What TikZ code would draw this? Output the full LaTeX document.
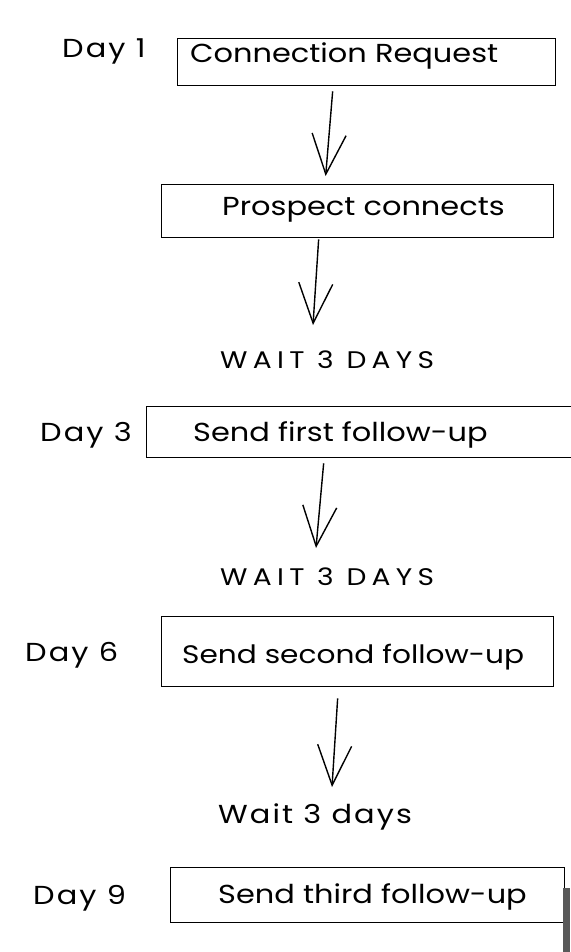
\documentclass[tikz,border=0pt]{standalone}
\usepackage{fontspec}
\setmainfont[FakeStretch=1.17]{Poppins}
\usetikzlibrary{arrows.meta}

\begin{document}
\begin{tikzpicture}[x=1pt, y=-1pt,
        stage/.style={draw, rectangle, line width=1.3pt, anchor=north west, inner sep=0pt},
        says/.style={anchor=base west, inner sep=0pt, font=\fontsize{26}{30}\selectfont},
        day/.style={says, font=\fontsize{26}{30}\selectfont\addfontfeatures{LetterSpace=8}},
        pause/.style={says, font=\fontsize{24}{28}\selectfont\addfontfeatures{LetterSpace=22}},
        flow/.style={-{Straight Barb[length=40pt, width=34pt, line width=1.4pt]}, line width=1.4pt}]
    \useasboundingbox (0,0) rectangle (570,952);
    % boxes
    \node[stage, minimum width=378pt, minimum height=47pt] (req) at (177,38) {};
    \node[stage, minimum width=392pt, minimum height=53pt] (conn) at (161,184) {};
    \node[stage, minimum width=430pt, minimum height=51pt] (first) at (146,406) {};
    \node[stage, minimum width=392pt, minimum height=70pt] (second) at (161,616) {};
    \node[stage, minimum width=394pt, minimum height=55pt] (third) at (170,867) {};
    % texts
    \node[says] (t1) at (190,63) {Connection Request};
    \node[says] (t2) at (222,215) {Prospect connects};
    \node[says] (t3) at (193,441) {Send first follow-up};
    \node[says, font=\fontsize{25.3}{30}\selectfont] (t4) at (182,663) {Send second follow-up};
    \node[says] (t5) at (218,903) {Send third follow-up};
    \node[day] (d1) at (62,58) {Day 1};
    \node[day] (d3) at (40,441) {Day 3};
    \node[day] (d6) at (25,661) {Day 6};
    \node[day] (d9) at (33,904) {Day 9};
    \node[pause] (w1) at (220,368) {WAIT 3 DAYS};
    \node[pause] (w2) at (220,585) {WAIT 3 DAYS};
    \node[day] (w3) at (218,823) {Wait 3 days};
    % arrows
    \draw[flow] ([xshift=-34pt, yshift=-5pt]req.south) -- ([xshift=-32pt, yshift=8pt]conn.north);
    \draw[flow] ([xshift=-39pt, yshift=-1pt]conn.south) -- ([xshift=93pt, yshift=43pt]w1.base west);
    \draw[flow] ([xshift=-38pt, yshift=-5pt]first.south) -- ([xshift=96pt, yshift=37pt]w2.base west);
    \draw[flow] ([xshift=-20pt, yshift=-11pt]second.south) -- ([xshift=114pt, yshift=36pt]w3.base west);
    % grey edge
    \fill[black!65] (563,888) rectangle (570,952);
\end{tikzpicture}
\end{document}
